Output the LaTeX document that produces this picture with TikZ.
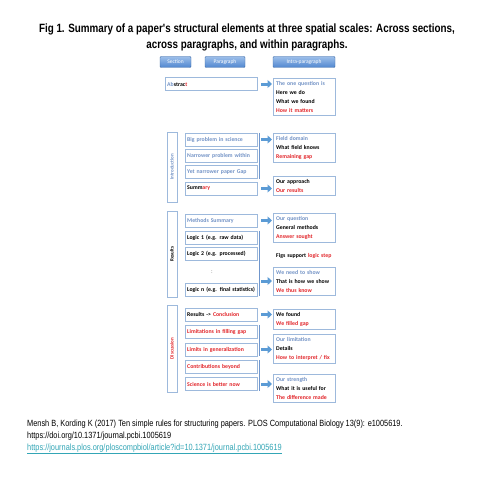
\documentclass[tikz,border=0pt]{standalone}
\usepackage{fontspec}
\setmainfont{Liberation Sans}
\newfontfamily\narrowfont[FakeStretch=0.82]{Liberation Sans}
\newfontfamily\boxfont{Carlito}
\usetikzlibrary{arrows.meta,positioning}

\definecolor{boxblue}{HTML}{9DB9DC}
\definecolor{grpblue}{HTML}{7096CC}
\definecolor{litetxt}{HTML}{7393C6}
\definecolor{redtxt}{HTML}{E2262B}
\definecolor{arrowblue}{HTML}{5B9BD5}
\definecolor{hdrtop}{HTML}{9DBFEA}
\definecolor{hdrbot}{HTML}{4F86CF}
\definecolor{linkteal}{HTML}{33A6B6}

\newcommand{\lite}[1]{\textcolor{litetxt}{#1}}
\newcommand{\redt}[1]{\textcolor{redtxt}{#1}}

\tikzset{
	hdr/.style={draw=hdrbot!80!black, top color=hdrtop, bottom color=hdrbot, rounded corners=1pt,
		minimum height=11, inner sep=1pt, text=white, font=\boxfont\fontsize{5.5}{6}\selectfont},
	pbox/.style={draw=boxblue, fill=white, anchor=west, minimum width=72, minimum height=13,
		inner sep=2pt, text width=68, align=left, font=\boxfont\bfseries\fontsize{5.8}{6}\selectfont},
	ibox/.style={draw=boxblue, fill=white, text width=56, inner sep=3pt, align=left,
		font=\boxfont\bfseries\fontsize{5.8}{9}\selectfont},
	sec/.style={draw=boxblue, rotate=90, minimum height=10, inner sep=0pt,
		font=\boxfont\bfseries\fontsize{5}{6}\selectfont},
	flow/.style={draw=arrowblue, line width=3pt, -{Triangle[length=4.5pt,width=8pt]},
		shorten <=4pt, shorten >=1pt},
	grp/.style={draw=grpblue, line width=0.8pt}
}

\begin{document}
\begin{tikzpicture}[x=1pt,y=-1pt]
	\useasboundingbox[fill=white] (0,0) rectangle (495,495);

	% title
	\node[align=center, font=\narrowfont\bfseries\fontsize{12}{16}\selectfont] (title) at (247,37)
		{Fig 1. Summary of a paper's structural elements at three spatial scales: Across sections,\\
		across paragraphs, and within paragraphs.};

	% column heads
	\node[hdr, minimum width=31] (hsec) at (175.5,62) {Section};
	\node[hdr, minimum width=40] (hpar) at (225,62) {Paragraph};
	\node[hdr, minimum width=62] (hint) at (304,62) {Intra-paragraph};

	% sections
	\node[sec, minimum width=70] (sintro) at (172,167) {\lite{Introduction}};
	\node[sec, minimum width=86] (sres) at (172,254) {Results};
	\node[sec, minimum width=87] (sdisc) at (172,348.5) {\redt{Discussion}};

	% paragraphs
	\node[pbox, minimum width=92, text width=88] (abs) at (165,84) {\lite{Ab}strac\redt{t}};

	\node[pbox] (big) at (185,139.5) {\lite{Big problem in science}};
	\node[pbox] (narrow) at (185,155.5) {\lite{Narrower problem within}};
	\node[pbox] (gap) at (185,172) {\lite{Yet narrower paper Gap}};
	\node[pbox] (summ) at (185,188.5) {Summ\redt{ary}};

	\node[pbox] (meth) at (185,220.5) {\lite{Methods Summary}};
	\node[pbox] (logA) at (185,237.5) {Logic 1 (e.g. raw data)};
	\node[pbox] (logB) at (185,253.5) {Logic 2 (e.g. processed)};
	\node[font=\boxfont\fontsize{6}{6}\selectfont, text=gray] (dots) at (212,272) {:};
	\node[pbox] (logN) at (185,289.5) {Logic n (e.g. final statistics)};

	\node[pbox] (concl) at (185,314.5) {Results -{}> \redt{Conclusion}};
	\node[pbox] (limA) at (185,332) {\redt{Limitations in filling gap}};
	\node[pbox] (limB) at (185,349.5) {\redt{Limits in generalization}};
	\node[pbox] (contr) at (185,367) {\redt{Contributions beyond}};
	\node[pbox] (sci) at (185,384) {\redt{Science is better now}};

	% groups of paragraphs
	\draw[grp] ([xshift=1.5]big.north east) -- ([xshift=1.5]gap.south east);
	\draw[grp] ([xshift=1.5]logA.north east) -- ([xshift=1.5]logN.south east);
	\draw[grp] ([xshift=1.5]limA.north east) -- ([xshift=1.5]limB.south east);
	\draw[grp] ([xshift=1.5]contr.north east) -- ([xshift=1.5]sci.south east);

	% intra-paragraph
	\node[ibox, anchor=west] (qabs) at (273,97)
		{\lite{The one question is}\\Here we do\\What we found\\\redt{How it matters}};
	\node[ibox, anchor=west] (field) at (273,147.5)
		{\lite{Field domain}\\What field knows\\\redt{Remaining gap}};
	\node[ibox, anchor=west] (appr) at (273,185.5)
		{Our approach\\\redt{Our results}};
	\node[ibox, anchor=west] (quest) at (273,227.5)
		{\lite{Our question}\\General methods\\\redt{Answer sought}};
	\node[ibox, anchor=west, draw=none] (figs) at (273,256)
		{Figs support \redt{logic step}};
	\node[ibox, anchor=west] (need) at (273,281)
		{\lite{We need to show}\\That is how we show\\\redt{We thus know}};
	\node[ibox, anchor=west] (found) at (273,319.5)
		{We found\\\redt{We filled gap}};
	\node[ibox, anchor=west] (limit) at (273,348.5)
		{\lite{Our limitation}\\Details\\\redt{How to interpret / fix}};
	\node[ibox, anchor=west] (strng) at (273,388)
		{\lite{Our strength}\\What it is useful for\\\redt{The difference made}};

	% arrows
	\draw[flow] (abs.east) -- (qabs.west |- abs.east);
	\draw[flow] (big.east) -- (field.west |- big.east);
	\draw[flow] (summ.east) -- (appr.west |- summ.east);
	\draw[flow] (meth.east) -- (quest.west |- meth.east);
	\draw[flow] (logN.east |- need.west) -- (need.west);
	\draw[flow] (concl.east) -- (found.west |- concl.east);
	\draw[flow] (limB.east) -- (limit.west |- limB.east);
	\draw[flow] (sci.east) -- (strng.west |- sci.east);

	% reference
	\begin{scope}[every node/.style={anchor=base west, inner sep=0pt, font=\narrowfont\fontsize{9}{10}\selectfont}]
		\node (ref) at (27,426) {Mensh B, Kording K (2017) Ten simple rules for structuring papers. PLOS Computational Biology 13(9): e1005619.};
		\node (doi) at (27,438) {https://doi.org/10.1371/journal.pcbi.1005619};
		\node[text=linkteal] (url) at (27,450) {\underline{https://journals.plos.org/ploscompbiol/article?id=10.1371/journal.pcbi.1005619}};
	\end{scope}
\end{tikzpicture}
\end{document}
